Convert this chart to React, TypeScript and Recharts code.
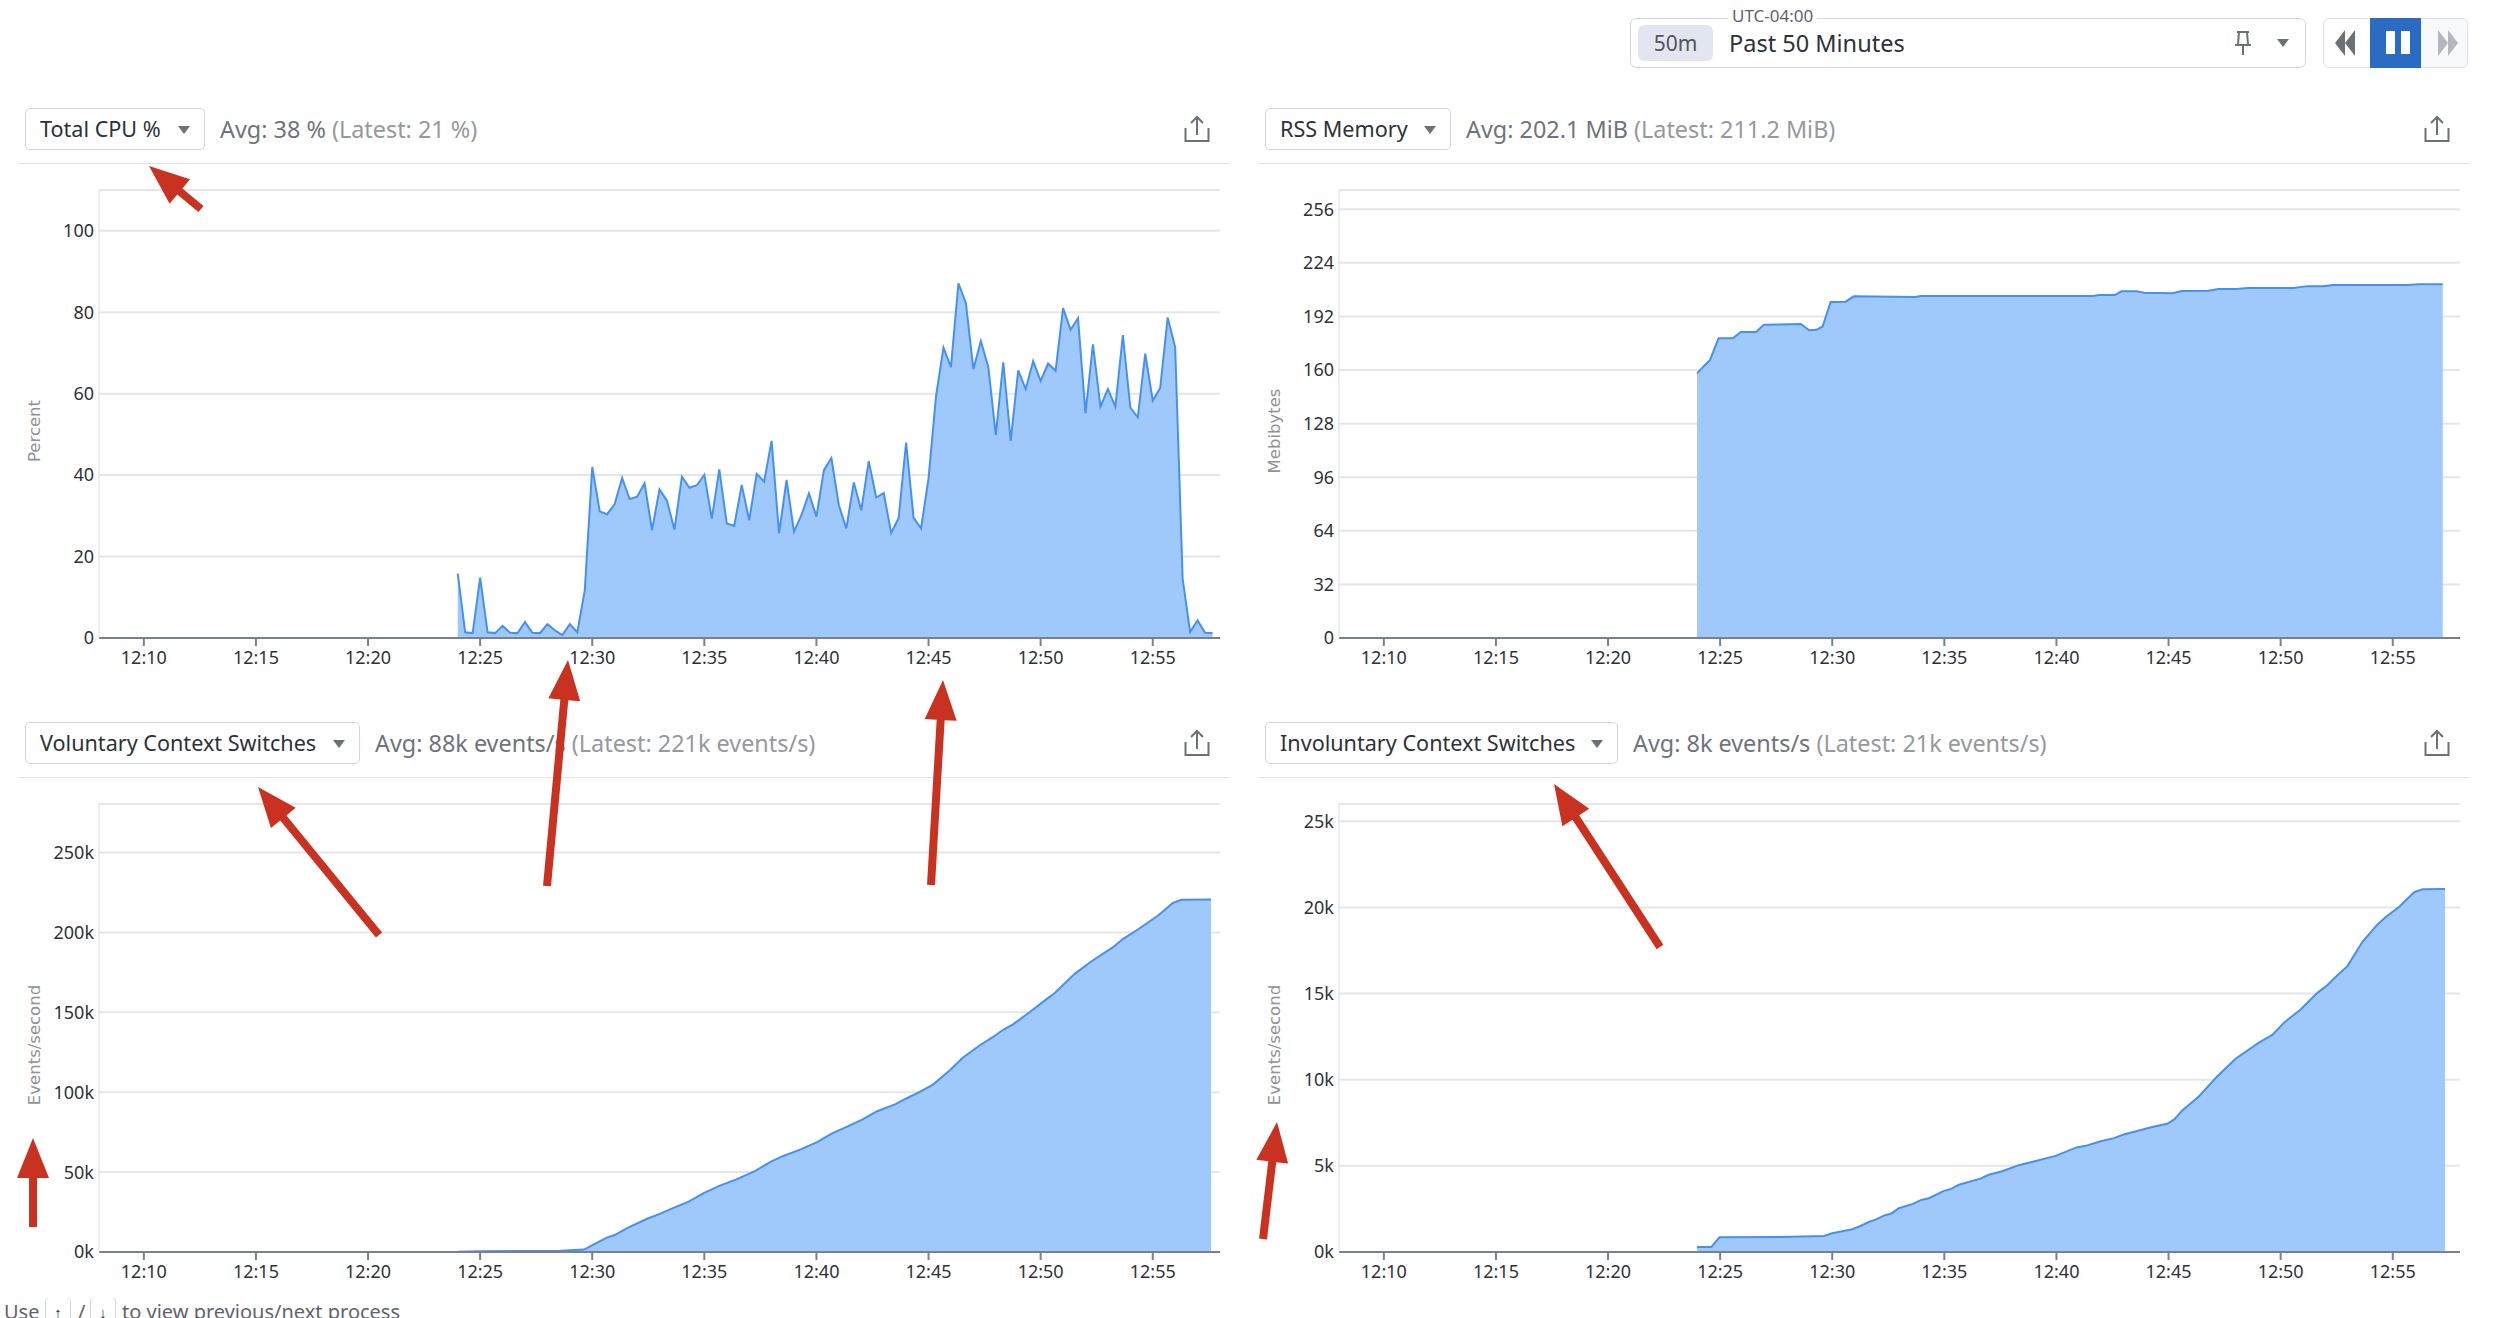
import { AreaChart, Area, XAxis, YAxis, CartesianGrid, ReferenceLine } from 'recharts';

const font = '"Noto Sans", sans-serif';

const timeTicks = [10, 15, 20, 25, 30, 35, 40, 45, 50, 55];

// minutes past 12:00, one sample every 20 seconds from 12:24
const cpuStart = 24;
const cpuValues = [
  15.8, 1.4, 1.2, 14.8, 1.4, 1.2, 3, 1.3, 1.2, 3.9, 1.3, 1.2, 3.4, 1.9, 0.7, 3.4, 1.4, 11.7,
  42, 31.1, 30.4, 32.9, 39.3, 34.1, 34.7, 38, 26.5, 36.5, 33.7, 26.6, 39.6, 36.9, 37.5, 40.1,
  29.3, 41.4, 28.1, 27.5, 37.6, 28.9, 40.3, 38.4, 48.4, 25.7, 38.8, 26.1, 30.2, 35.5, 29.8,
  41.2, 44.2, 32.6, 26.9, 38.2, 31.4, 43.4, 34.5, 35.6, 25.8, 29.5, 48, 29.5, 26.9, 39.2,
  59.3, 71.3, 66.5, 87.1, 82.2, 66, 72.9, 66.5, 49.8, 67.7, 48.4, 65.7, 61.1, 68, 63.1, 67.4,
  65.6, 81, 75.7, 78.5, 55.2, 72.1, 56.8, 61.1, 56.8, 74.4, 56.6, 54.2, 69.8, 58.3, 61.4,
  78.7, 71.4, 14.6, 1.5, 4.3, 1.3, 1.2,
];
const cpuTicks = [0, 20, 40, 60, 80, 100];

const rssTimes = [
  23.97, 24.25, 24.55, 24.93, 25.57, 25.92, 26.6, 26.95, 28.6, 28.97, 29.3, 29.57, 29.93, 30.6,
  30.96, 33.7, 33.94, 41.63, 41.9, 42.6, 42.9, 43.58, 43.9, 45.18, 45.6, 46.77, 47.23, 48,
  48.55, 50.57, 51.2, 51.9, 52.34, 55.64, 56.16, 57.23,
];
const rssValues = [
  158, 162, 166, 179, 179, 182.7, 182.7, 187, 187.5, 183.7, 184, 186, 200.6, 200.8,
  204, 203.6, 204.2, 204.2, 204.8, 204.8, 207, 207, 206.2, 205.8, 207.2, 207.4, 208.4, 208.4,
  209, 209, 210.1, 210.1, 210.8, 210.8, 211.2, 211.2,
];
const rssTicks = [0, 32, 64, 96, 128, 160, 192, 224, 256];

const volTimes = [
  24, 25, 27, 28.57, 29.64, 30.05, 30.65, 31, 31.6, 32.45, 33.04, 33.6, 34.3, 34.97, 35.64,
  36.46, 37.27, 37.95, 38.47, 39.3, 40.03, 40.7, 41.37, 42.04, 42.71, 43.53, 44.05, 44.54,
  45.2, 45.95, 46.54, 47.29, 47.88, 48.33, 48.77, 49.52, 50.19, 50.63, 51.52, 52.27, 53.23,
  53.68, 54.27, 55.24, 55.9, 56.28, 57.6,
];
const volValues = [
  0.2, 0.4, 0.7, 0.8, 1.5, 4.6, 9, 10.6, 15.2, 20.8, 24, 27.5, 31.5, 36.9, 41.2,
  45.6, 50.8, 56.4, 59.8, 64.2, 68.8, 74.2, 78.5, 82.9, 88.1, 92.5, 96.4, 99.8,
  104.8, 113.7, 121.7, 129.4, 134.6, 139.1, 142.5, 150.2, 157.5, 162.1, 174.1, 182, 190.8,
  196, 201.2, 210.6, 218.5, 220.4, 220.6,
];
const volTicks = [0, 50, 100, 150, 200, 250];

const invTimes = [
  23.97, 24.61, 24.97, 27.7, 29.63, 30, 30.9, 31.26, 31.63, 31.93, 32.3, 32.63, 32.97, 33.6,
  33.97, 34.31, 34.98, 35.3, 35.65, 36.61, 36.98, 37.58, 38.32, 38.99, 39.96, 40.9, 41.3,
  41.97, 42.56, 43, 43.6, 44.27, 44.94, 45.27, 45.61, 46.35, 47.17, 47.99, 48.36, 49.03,
  49.63, 50.15, 50.89, 51.64, 52.08, 52.46, 52.98, 53.65, 54.32, 54.69, 55.29, 55.96, 56.33,
  57.33,
];
const invValues = [
  0.29, 0.29, 0.85, 0.87, 0.93, 1.09, 1.32, 1.51, 1.74, 1.88, 2.11, 2.23, 2.54, 2.79,
  3.02, 3.12, 3.55, 3.66, 3.9, 4.26, 4.48, 4.69, 5.04, 5.25, 5.58, 6.07, 6.16,
  6.43, 6.61, 6.82, 7.02, 7.25, 7.44, 7.71, 8.22, 9.03, 10.19, 11.22, 11.55, 12.15,
  12.6, 13.31, 14.07, 15.04, 15.48, 15.97, 16.59, 18, 19.01, 19.44, 20.04, 20.89, 21.05,
  21.07,
];
const invTicks = [0, 5, 10, 15, 20, 25];

// red annotation arrows drawn on the screenshot: tail x, tail y, tip x, tip y
const arrows = [
  [201, 209, 149, 166],
  [547, 886, 568, 660],
  [931, 885, 943, 680],
  [379, 935, 258, 787],
  [33, 1227, 33, 1138],
  [1660, 947, 1554, 784],
  [1263, 1239, 1277, 1122],
];

const rows = (times: number[], values: number[]) => times.map((t, i) => ({ t, v: values[i] }));
const cpuRows = cpuValues.map((v, i) => ({ t: cpuStart + i / 3, v }));

const Caret = ({ x, y }: any) => (
  <svg style={{ position: 'absolute', left: x, top: y }} width={12} height={8}>
    <path d="M0 0 L12 0 L6 8 Z" fill="#6c7178" />
  </svg>
);

const ShareIcon = ({ x, y }: any) => (
  <svg style={{ position: 'absolute', left: x, top: y }} width={26} height={28} fill="none" stroke="#6c7178" strokeWidth={2}>
    <path d="M1.5 13 V26 H24.5 V13" />
    <path d="M13 20 V2 M7 8 L13 2 L19 8" />
  </svg>
);

const Panel = ({ left, top, boxWidth, title, avg, latest, yLabel, data, domain, ticks, format }: any) => (
  <div style={{ position: 'absolute', left, top, width: 1230, height: 540, fontFamily: font }}>
    <div style={{ position: 'absolute', left: 7, top: 0, width: boxWidth, height: 42, boxSizing: 'border-box', border: '1px solid #d3d6e2', borderRadius: 5, background: '#fff' }} />
    <div style={{ position: 'absolute', left: 22, top: 7, fontSize: 21.6, lineHeight: '28px', color: '#2c3238', whiteSpace: 'nowrap' }}>{title}</div>
    <Caret x={boxWidth - 20} y={18} />
    <div style={{ position: 'absolute', left: boxWidth + 22, top: 7, fontSize: 23.4, lineHeight: '28px', whiteSpace: 'nowrap' }}>
      <span style={{ color: '#6f747b' }}>{avg}</span> <span style={{ color: '#96999e' }}>{latest}</span>
    </div>
    <ShareIcon x={1166} y={7} />
    <div style={{ position: 'absolute', left: 0, top: 55, width: 1212, height: 1, background: '#e2e4ec' }} />
    <div style={{ position: 'absolute', left: 0, top: 72 }}>
      <AreaChart width={1212} height={502} data={data} margin={{ top: 10, right: 10, left: 0, bottom: 0 }}>
        <CartesianGrid vertical={false} stroke="#e6e6e8" strokeWidth={2} />
        <XAxis
          type="number"
          dataKey="t"
          domain={[8, 58]}
          ticks={timeTicks}
          tickFormatter={(v: number) => `12:${v}`}
          height={44}
          tickSize={8}
          tickMargin={5}
          axisLine={{ stroke: '#7b8091', strokeWidth: 2 }}
          tickLine={{ stroke: '#7b8091', strokeWidth: 2 }}
          tick={{ fill: '#2e3238', fontSize: 18, fontFamily: font }}
          interval={0}
        />
        <YAxis
          type="number"
          width={81}
          domain={domain}
          ticks={ticks}
          tickFormatter={format}
          tickLine={false}
          tickMargin={5}
          tickSize={0}
          axisLine={{ stroke: '#dcdcdf' }}
          tick={{ fill: '#2e3238', fontSize: 18, fontFamily: font }}
          interval={0}
          label={{ value: yLabel, angle: -90, position: 'insideLeft', dx: 11, dy: 17, style: { textAnchor: 'middle', fill: '#8f9296', fontSize: 16.5, fontFamily: '"DejaVu Sans", sans-serif' } }}
        />
        <Area type="linear" dataKey="v" stroke="#4590f5" strokeWidth={2} fill="#a0c9fb" fillOpacity={1} dot={false} activeDot={false} isAnimationActive={false} />
        <ReferenceLine y={0} stroke="#7b8091" strokeWidth={2} />
      </AreaChart>
    </div>
  </div>
);

const Arrow = ({ a }: any) => {
  const [x0, y0, x1, y1] = a;
  const len = Math.hypot(x1 - x0, y1 - y0);
  const ux = (x1 - x0) / len;
  const uy = (y1 - y0) / len;
  const nx = -uy;
  const ny = ux;
  const head = 40;
  const hw = 16;
  const sw = 4;
  const bx = x1 - ux * head;
  const by = y1 - uy * head;
  const pts = [
    [x0 + nx * sw, y0 + ny * sw],
    [bx + nx * sw, by + ny * sw],
    [bx + nx * hw, by + ny * hw],
    [x1, y1],
    [bx - nx * hw, by - ny * hw],
    [bx - nx * sw, by - ny * sw],
    [x0 - nx * sw, y0 - ny * sw],
  ];
  return <polygon points={pts.map((p) => p.join(',')).join(' ')} fill="#c93220" />;
};

const TimeBar = () => (
  <div style={{ fontFamily: font }}>
    <div style={{ position: 'absolute', left: 1630, top: 18, width: 676, height: 50, boxSizing: 'border-box', border: '1px solid #d3d6e2', borderRadius: 6 }} />
    <div style={{ position: 'absolute', left: 1728, top: 4, padding: '0 4px', background: '#fff', fontSize: 17, lineHeight: '24px', color: '#5f646b' }}>UTC-04:00</div>
    <div style={{ position: 'absolute', left: 1638, top: 25, width: 75, height: 36, borderRadius: 6, background: '#e3e6ee', fontSize: 21, lineHeight: '36px', textAlign: 'center', color: '#51565d' }}>50m</div>
    <div style={{ position: 'absolute', left: 1729, top: 28, fontSize: 23.5, lineHeight: '30px', color: '#2c3238' }}>Past 50 Minutes</div>
    <svg style={{ position: 'absolute', left: 2232, top: 30 }} width={22} height={26} fill="none" stroke="#6c7178" strokeWidth={2}>
      <path d="M5 2 H17 M7 2 L6 14 M15 2 L16 14 M3 15 H19 M11 15 V25" />
    </svg>
    <Caret x={2277} y={39} />
    <div style={{ position: 'absolute', left: 2323, top: 18, width: 145, height: 50, boxSizing: 'border-box', border: '1px solid #dcdfe8', borderRadius: 6, background: '#f8f9fb' }} />
    <div style={{ position: 'absolute', left: 2324, top: 19, width: 46, height: 48, background: '#fff', borderRadius: '6px 0 0 6px' }} />
    <div style={{ position: 'absolute', left: 2370, top: 18, width: 51, height: 50, background: '#2a6cc2' }} />
    <svg style={{ position: 'absolute', left: 2323, top: 18 }} width={145} height={50}>
      <path d="M12 25 L22 12 V38 Z M22 25 L32 12 V38 Z" fill="#6c7178" />
      <rect x={63} y={13} width={9} height={23} fill="#fff" />
      <rect x={78} y={13} width={9} height={23} fill="#fff" />
      <path d="M135 25 L125 12 V38 Z M125 25 L115 12 V38 Z" fill="#b4b7bd" />
    </svg>
  </div>
);

const Footer = () => (
  <div style={{ position: 'absolute', left: 0, top: 1298, width: 500, height: 20, overflow: 'hidden', fontFamily: font, fontSize: 20, lineHeight: '28px', color: '#5f646b' }}>
    <span style={{ position: 'absolute', left: 4, top: 0 }}>Use</span>
    <div style={{ position: 'absolute', left: 45, top: -1, width: 26, height: 30, boxSizing: 'border-box', border: '1px solid #d3d6e2', borderRadius: 5, textAlign: 'center', fontSize: 15, color: '#2c3238' }}>↑</div>
    <span style={{ position: 'absolute', left: 78, top: 0 }}>/</span>
    <div style={{ position: 'absolute', left: 90, top: -1, width: 26, height: 30, boxSizing: 'border-box', border: '1px solid #d3d6e2', borderRadius: 5, textAlign: 'center', fontSize: 15, color: '#2c3238' }}>↓</div>
    <span style={{ position: 'absolute', left: 122, top: 0 }}>to view previous/next process</span>
  </div>
);

export default function App() {
  return (
    <div style={{ position: 'absolute', left: 0, top: 0, width: 2498, height: 1318, overflow: 'hidden', background: '#fff' }}>
      <TimeBar />
      <Panel left={18} top={108} boxWidth={180} title="Total CPU %" avg="Avg: 38 %" latest="(Latest: 21 %)" yLabel="Percent" data={cpuRows} domain={[0, 110]} ticks={cpuTicks} />
      <Panel left={1258} top={108} boxWidth={186} title="RSS Memory" avg="Avg: 202.1 MiB" latest="(Latest: 211.2 MiB)" yLabel="Mebibytes" data={rows(rssTimes, rssValues)} domain={[0, 267.5]} ticks={rssTicks} />
      <Panel left={18} top={722} boxWidth={335} title="Voluntary Context Switches" avg="Avg: 88k events/s" latest="(Latest: 221k events/s)" yLabel="Events/second" data={rows(volTimes, volValues)} domain={[0, 280.4]} ticks={volTicks} format={(v: number) => `${v}k`} />
      <Panel left={1258} top={722} boxWidth={353} title="Involuntary Context Switches" avg="Avg: 8k events/s" latest="(Latest: 21k events/s)" yLabel="Events/second" data={rows(invTimes, invValues)} domain={[0, 26]} ticks={invTicks} format={(v: number) => `${v}k`} />
      <Footer />
      <svg style={{ position: 'absolute', left: 0, top: 0 }} width={2498} height={1318}>
        {arrows.map((a, i) => <Arrow key={i} a={a} />)}
      </svg>
    </div>
  );
}
